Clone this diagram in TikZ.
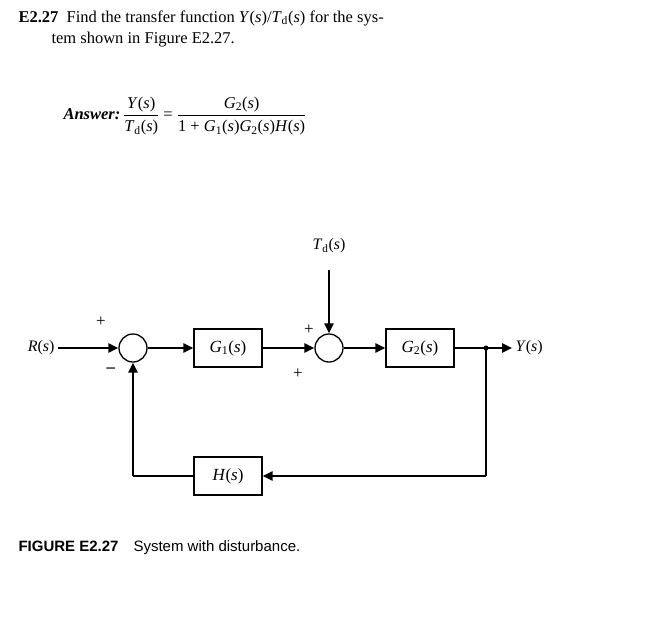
\documentclass[tikz,border=0pt]{standalone}
\usepackage{amsmath}
\usepackage{fontspec}
\setmainfont{Liberation Serif}
\newfontfamily\capsans{Liberation Sans}
\usetikzlibrary{arrows.meta}
\newcommand{\vi}[1]{\textit{#1}}
\newcommand{\fn}[2]{\vi{#1}\textsubscript{#2}(\vi{s})}
\begin{document}
\begin{tikzpicture}[x=1pt,y=-1pt,
  blk/.style={draw,line width=1.3pt,minimum width=68pt,minimum height=38pt,font=\fontsize{17}{18}\selectfont},
  sum/.style={draw,circle,line width=1.3pt,minimum size=28pt,inner sep=0pt},
  sig/.style={line width=2.4pt,-{Triangle[length=10pt,width=9pt]}},
  ln/.style={line width=2.4pt},
  lab/.style={font=\fontsize{16}{16}\selectfont},
  pm/.style={font=\fontsize{17}{16}\selectfont}]
\useasboundingbox (0,0) rectangle (647,621);
\node[anchor=west,font=\fontsize{16.5}{20}\selectfont] (l1) at (15,18) {\textbf{E2.27}\ \ Find the transfer function \vi{Y}(\vi{s})/\fn{T}{d} for the sys-};
\node[anchor=west,font=\fontsize{16.5}{20}\selectfont] (l2) at (48,40) {tem shown in Figure E2.27.};
\node[anchor=west,font=\fontsize{16.5}{20}\selectfont] (ans) at (60,116) {\textbf{\textit{Answer:}}\,$\displaystyle\frac{\text{\vi{Y}(\vi{s})}}{\text{\fn{T}{d}}} \text{ = } \frac{\text{\fn{G}{2}}}{\text{1 + \fn{G}{1}\fn{G}{2}\vi{H}(\vi{s})}}$};
\node[sum] (s1) at (133,348) {};
\node[blk] (g1) at (228,348) {\fn{G}{1}};
\node[sum] (s2) at (329,348) {};
\node[blk] (g2) at (420,348) {\fn{G}{2}};
\node[blk] (h) at (228,476) {\vi{H}(\vi{s})};
\node[lab,anchor=east] (r) at (58,348) {\vi{R}(\vi{s})};
\node[lab,anchor=west] (y) at (512,348) {\vi{Y}(\vi{s})};
\node[lab] (td) at (329,246) {\fn{T}{d}};
\coordinate (b) at (486,348);
\coordinate (bl) at (486,476);
\coordinate (fl) at (133,476);
\coordinate (tdt) at (329,270);
\fill (b) circle (2.5pt);
\draw[sig] (r.east) -- (s1.west);
\draw[sig] (s1.east) -- (g1.west);
\draw[sig] (g1.east) -- (s2.west);
\draw[sig] (s2.east) -- (g2.west);
\draw[ln] (g2.east) -- (b);
\draw[sig] (b) -- (y.west);
\draw[sig] (tdt) -- (s2.north);
\draw[ln] (b) -- (bl);
\draw[sig] (bl) -- (h.east);
\draw[ln] (h.west) -- (fl);
\draw[sig] (fl) -- (s1.south);
\node[pm] (p1) at (101,322) {+};
\node[pm] (m1) at (111,370) {\textbf{--}};
\node[pm] (p2) at (309,330) {+};
\node[pm] (p3) at (298,374) {+};
\node[anchor=west,font=\fontsize{15}{18}\selectfont] (cap) at (15,548) {{\capsans\bfseries FIGURE E2.27}\quad{\capsans System with disturbance.}};
\end{tikzpicture}
\end{document}
